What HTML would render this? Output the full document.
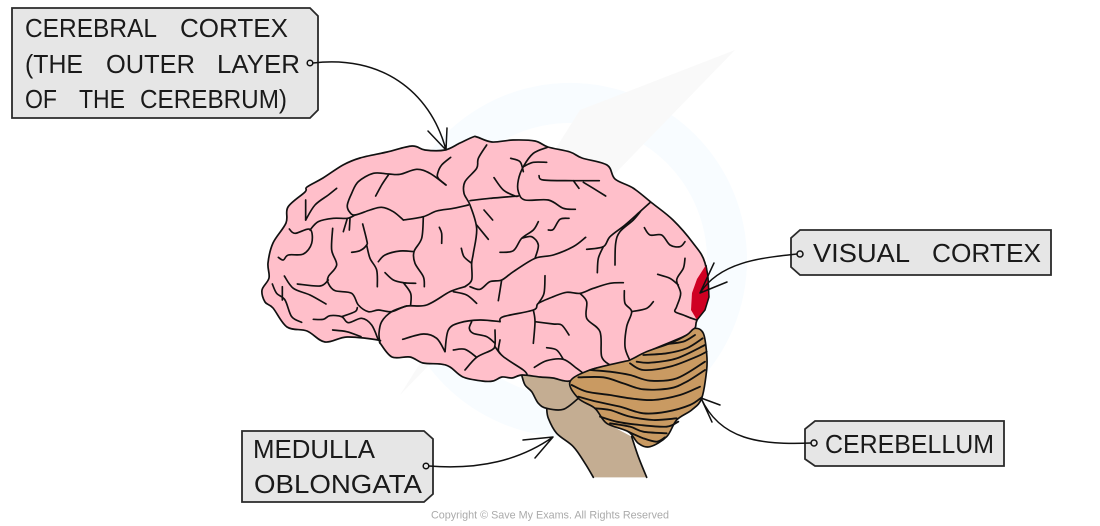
<!DOCTYPE html>
<html><head><meta charset="utf-8"><style>
html,body{margin:0;padding:0;background:#fff;width:1100px;height:526px;overflow:hidden}
svg{display:block}
.t{font-family:"Liberation Sans",sans-serif;font-size:26px;fill:#1a1a1a}
.l{fill:none;stroke:#111;stroke-width:5;stroke-linejoin:round;stroke-linecap:round}
.c{fill:none;stroke:#111;stroke-width:1.5;stroke-linecap:round;stroke-linejoin:round}
.b{fill:#e6e6e6;stroke:#2a2a2a;stroke-width:1.8}
</style></head><body>
<svg width="1100" height="526" viewBox="0 0 1100 526" xmlns="http://www.w3.org/2000/svg">
<!-- watermark -->
<path d="M393 260A177 177 0 1 1 747 260A177 177 0 1 1 393 260ZM433 260A137 137 0 1 0 707 260A137 137 0 1 0 433 260Z" fill="#f8fcff" fill-rule="evenodd"/>
<polygon points="735,50 580,110 400,395" fill="#f9f9f9"/>
<!-- brainstem -->
<g transform="translate(510,320) scale(.33333)">
<path d="M35 165L45 195 65 215 85 250 110 265 115 295 140 340 190 380 225 430 250 472 410 472 365 350 290 310 255 265 205 235 180 185 130 168 70 170Z" fill="#c4ad92"/>
<path class="l" d="M35 165L45 195 65 215 85 250 110 265 160 268 205 235M110 265L115 295 140 340 190 380 225 430 250 472M365 350L385 410 410 472"/>
</g>
<!-- brain outline -->
<path class="s" d="M445 150L425 150 412 146 387 152 360 158 343 165 323 178 307 187 305 192 288 207 286 223 273 243 268 263 269 278 262 290 265 302 273 308 287 327 307 331 325 342 347 337 378 340 380 343 392 357 410 357 423 363 440 364 450 367 463 377 482 381 493 381 502 377 512 378 522 375 540 377 553 378 570 381 590 370 633 360 647 352 687 335 695 328 697 320 708 297 705 263 693 243 673 220 652 203 633 188 615 179 607 165 582 158 570 152 548 147 535 141 513 140 492 142 477 137 473 137 460 143Z" fill="#ffbfca" stroke="#111" stroke-width="1.7" stroke-linejoin="round"/>
<!-- red visual cortex -->
<path d="M706 265L697 279 692 293 691 310 697 320 705 310 709 297 708 277Z" fill="#cf0022"/>
<path d="M706 265L708 277 709 297 705 310 697 320" fill="none" stroke="#111" stroke-width="1.5"/>
<!-- left sulci -->
<g transform="translate(260,130) scale(.33333)" class="l">
<path d="M572 82L545 105 533 130 535 145 558 165"/>
<path d="M558 165L510 130 470 118 420 133 385 132 340 130 295 155 275 190 262 225 268 245 285 255 330 240 365 232 400 245 430 270"/>
<path d="M430 270L490 260 530 243 580 235 625 225"/>
<path d="M347 198L365 165 385 135"/>
<path d="M150 300L175 275 220 265 262 265 285 255M262 265L250 305M270 265L268 300"/>
<path d="M88 297L105 310 150 298 155 340 130 372 85 375 70 390 55 382"/>
<path d="M230 175L205 195 165 225 137 270"/>
<path d="M137 270L137 210"/>
<path d="M218 295L215 360 230 405 205 440 205 460 225 482 275 490 295 525 325 545 355 540 395 545 440 528 500 525 570 485 615 470"/>
<path d="M205 450L180 468 112 462"/>
<path d="M73 438L100 475 150 495 198 522"/>
<path d="M37 462L50 490 75 510 95 560 125 577M67 470L67 510"/>
<path d="M160 568L190 568 210 557 245 560 265 578 305 565 335 585 355 630M245 560L285 545 292 533"/>
<path d="M218 600L260 605 303 620"/>
<path d="M308 282L320 330 320 345 300 362 275 367M320 345L330 385 350 420 352 470"/>
<path d="M355 395L375 375 420 363 462 365M490 262L485 325 462 365 465 400 490 440 493 470"/>
<path d="M375 428L400 450 430 458 467 460M430 458L452 490 452 525"/>
<path d="M538 292L545 310 545 340"/>
<path d="M604 355L612 380 635 400"/>
<path d="M680 45L655 85 650 115 615 155 612 190 630 225 650 295 640 370 635 400 635 450 615 470"/>
<path d="M650 285L685 328"/>
<path d="M580 485L620 495 650 520"/>
<path d="M440 528L395 545 365 575 357 610 360 640"/>
<path d="M428 628L490 612 530 625 555 665"/>
<path d="M555 665L565 600 600 578 660 570 720 575"/>
<path d="M635 575L628 595 640 610 680 620 705 640M705 600L705 645 695 660 650 682 615 720M580 660L615 658 650 682M720 630L715 660 720 670"/>
</g>
<!-- right sulci -->
<g transform="translate(470,130) scale(.33333)" class="l">
<path d="M232 52L190 70 160 110 145 150 145 185 165 210 235 210 280 235 316 238"/>
<path d="M122 85L150 95 160 125M160 110L190 97 230 97"/>
<path d="M72 143L100 180 135 198 145 198M0 212L60 205 145 198"/>
<path d="M207 137L220 150 310 152 388 152M310 152L327 175M340 157L370 175 407 198"/>
<path d="M42 240L68 270"/>
<path d="M297 265L270 268 250 298 235 300"/>
<path d="M205 275L190 300 155 325 130 362 90 367M155 325L185 320 205 345 195 385M347 322L310 350 250 375 195 385 130 425 95 450 60 455 30 478 0 470M95 450L85 512"/>
<path d="M540 218L510 245 465 285 420 320 400 350 350 358M400 350L385 385 382 428M515 240L490 270 450 305 437 340 435 405"/>
<path d="M523 293L540 315 575 315 600 345 630 350 645 335"/>
<path d="M645 385L640 415 620 450 632 490 620 530 615 545 640 555 665 565 680 570M563 433L600 445 625 465"/>
<path d="M463 482L465 520 485 545 470 590 465 650 478 688M485 545L530 535 550 515"/>
<path d="M460 458L420 460 370 475 330 490 290 487 250 500 205 520 190 540 100 560 90 575M330 490L350 515 350 565 390 605 395 680 420 705M225 437L222 490 205 520M190 540L195 575 190 640M195 575L250 582 275 585 297 615"/>
<path d="M75 650L100 680 160 720 172 735"/>
<path d="M230 653L260 660 280 688M193 712L230 692 280 688 320 715 340 730"/>
</g>
<!-- cerebellum -->
<g transform="translate(510,320) scale(.33333)">
<path class="s" d="M180 185L240 150 340 125 360 120 410 95 480 70 530 45 555 25 580 40 590 100 590 150 575 235 545 270 500 300 470 350 420 380 385 370 355 335 290 310 255 265 205 235Z" fill="#c99a62" stroke="#111" stroke-width="5" stroke-linejoin="round"/>
<g class="l" style="stroke-width:5.5">
<path d="M240 150L300 155 360 165 420 182 500 175 585 125"/>
<path d="M205 172L280 172 340 190 400 208 480 205 530 185 585 150"/>
<path d="M380 125L420 128 500 115 585 75"/>
<path d="M360 130L400 150 480 140 560 110 590 95"/>
<path d="M400 105L470 100 530 85 578 55"/>
<path d="M470 72L520 65 555 45"/>
<path d="M185 195L230 215 300 225 360 235 430 240 510 225 570 200"/>
<path d="M205 230L260 245 330 260 400 280 470 275 540 255 575 232"/>
<path d="M255 265L300 270 360 290 430 300 500 295"/>
<path d="M270 290L320 305 390 315 470 320 505 305"/>
<path d="M300 310L360 320 400 335 470 340"/>
<path d="M355 335L400 355 440 365 465 352"/>
</g>
</g>
<!-- label boxes -->
<path class="b" d="M12 8H310L318 16V110L310 118H12Z"/>
<text class="t" x="25" y="37" textLength="132" lengthAdjust="spacingAndGlyphs">CEREBRAL</text>
<text class="t" x="180" y="37" textLength="108" lengthAdjust="spacingAndGlyphs">CORTEX</text>
<text class="t" x="25" y="73" textLength="58" lengthAdjust="spacingAndGlyphs">(THE</text>
<text class="t" x="106" y="73" textLength="89" lengthAdjust="spacingAndGlyphs">OUTER</text>
<text class="t" x="217" y="73" textLength="83" lengthAdjust="spacingAndGlyphs">LAYER</text>
<text class="t" x="25" y="108" textLength="32" lengthAdjust="spacingAndGlyphs">OF</text>
<text class="t" x="79" y="108" textLength="46" lengthAdjust="spacingAndGlyphs">THE</text>
<text class="t" x="140" y="108" textLength="147" lengthAdjust="spacingAndGlyphs">CEREBRUM)</text>
<path class="b" d="M800 230H1051V275H800L791 267V238Z"/>
<text class="t" x="813" y="262" textLength="97" lengthAdjust="spacingAndGlyphs">VISUAL</text>
<text class="t" x="932" y="262" textLength="109" lengthAdjust="spacingAndGlyphs">CORTEX</text>
<path class="b" d="M815 421H1004V466H815L805 459V429Z"/>
<text class="t" x="825" y="453" textLength="169" lengthAdjust="spacingAndGlyphs">CEREBELLUM</text>
<path class="b" d="M242 431H424L433 439V494L424 502H242Z"/>
<text class="t" x="253" y="458" textLength="122" lengthAdjust="spacingAndGlyphs">MEDULLA</text>
<text class="t" x="254" y="493" textLength="168" lengthAdjust="spacingAndGlyphs">OBLONGATA</text>
<!-- connectors -->
<circle class="c" cx="310" cy="63" r="2.8"/>
<path class="c" d="M313 63C380 55 430 90 446 150M428 131L446 150 447 128"/>
<circle class="c" cx="800" cy="254" r="3"/>
<path class="c" d="M797 254C760 258 720 262 700 293M714 263L700 293 727 282"/>
<circle class="c" cx="814" cy="443" r="3"/>
<path class="c" d="M811 443C760 445 720 440 701 398M720 405L701 398 712 422"/>
<circle class="c" cx="426" cy="466" r="2.8"/>
<path class="c" d="M429 466C480 470 520 460 553 437M523 440L553 437 535 458"/>
<text x="431" y="518.5" font-family="'Liberation Sans',sans-serif" font-size="11" fill="#aaa" textLength="238" lengthAdjust="spacingAndGlyphs">Copyright © Save My Exams. All Rights Reserved</text>
</svg>
<script>
document.querySelectorAll('g.l path, path.l, path.s').forEach(function(el){
  var out='';
  el.getAttribute('d').split('M').forEach(function(sub){
    if(!sub.trim())return;
    var closed=/Z/.test(sub),n=sub.match(/-?[\d.]+/g).map(Number),p=[];
    for(var i=0;i+1<n.length;i+=2)p.push([n[i],n[i+1]]);
    var len=p.length,g=function(k){return closed?p[(k+len)%len]:p[Math.max(0,Math.min(len-1,k))]};
    out+='M'+p[0][0]+' '+p[0][1];
    for(var j=0;j<(closed?len:len-1);j++){
      var a=g(j-1),b=g(j),c=g(j+1),d=g(j+2);
      out+='C'+(b[0]+(c[0]-a[0])/6)+' '+(b[1]+(c[1]-a[1])/6)+' '+(c[0]-(d[0]-b[0])/6)+' '+(c[1]-(d[1]-b[1])/6)+' '+c[0]+' '+c[1];
    }
    if(closed)out+='Z';
  });
  el.setAttribute('d',out);
});
</script>
</body></html>
